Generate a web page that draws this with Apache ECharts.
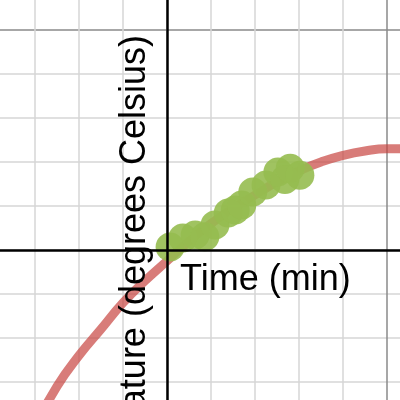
<!DOCTYPE html>
<html>
<head>
<meta charset="utf-8">
<script src="https://cdn.jsdelivr.net/npm/echarts@6/dist/echarts.min.js"></script>
<style>
html,body{margin:0;padding:0;background:#fff;overflow:hidden;width:400px;height:400px}
#main{position:absolute;left:-9px;top:-14px;width:440px;height:440px}
</style>
</head>
<body>
<div id="main"></div>
<script>
// fitted curve (red)
const curveX = [-3, -2.5, -2, -1.5, -1, -0.5, 0, 0.5, 1, 1.5, 2, 2.5, 3, 3.5, 4, 4.5, 5, 5.5];
const curveY = [-4.0, -3.1, -2.4, -1.8, -1.2, -0.7, -0.25, 0.2, 0.6, 0.95, 1.25, 1.55, 1.8, 2.0, 2.15, 2.25, 2.3, 2.3];
// measured points (green)
const pointX = [0.07, 0.36, 0.64, 0.86, 1.09, 1.39, 1.55, 1.7, 1.95, 2.25, 2.52, 2.68, 2.8, 3.02];
const pointY = [0.07, 0.27, 0.34, 0.3, 0.57, 0.84, 0.91, 1.02, 1.32, 1.48, 1.77, 1.6, 1.86, 1.7];

const minor = '#d6d6d6', major = '#8a8a8a';
// ticks -4..6, index 9 is value 5 (major line)
const gridColors = [minor, minor, minor, minor, minor, minor, minor, minor, minor, major, minor];

const chart = echarts.init(document.getElementById('main'));
chart.setOption({
  animation: false,
  grid: { left: 0, right: 0, top: 0, bottom: 0 },
  xAxis: {
    type: 'value', min: -4, max: 6, interval: 1,
    axisLine: { show: false }, axisTick: { show: false }, axisLabel: { show: false },
    splitLine: { lineStyle: { color: gridColors, width: 1.5 } }
  },
  yAxis: {
    type: 'value', min: -4, max: 6, interval: 1,
    axisLine: { show: false }, axisTick: { show: false }, axisLabel: { show: false },
    splitLine: { lineStyle: { color: gridColors, width: 1.5 } }
  },
  series: [
    {
      type: 'line', silent: true, symbol: 'none', z: 1,
      data: [],
      markLine: {
        symbol: 'none', silent: true, label: { show: false },
        lineStyle: { color: '#000', width: 2.5, type: 'solid' },
        data: [{ xAxis: 0 }, { yAxis: 0 }]
      }
    },
    {
      type: 'line', smooth: true, symbol: 'none', z: 3,
      lineStyle: { color: '#c74440', width: 9, opacity: 0.7 },
      data: curveX.map((x, i) => [x, curveY[i]])
    },
    {
      type: 'scatter', symbolSize: 29, z: 4,
      itemStyle: { color: '#96bc50', opacity: 0.9 },
      data: pointX.map((x, i) => [x, pointY[i]])
    }
  ],
  graphic: [
    {
      type: 'text', left: 189, top: 276, z: 10,
      style: { text: 'Time (min)', font: '36px "Liberation Sans", Arial, sans-serif', fill: '#000' }
    },
    {
      type: 'text', x: 144, y: 49, rotation: Math.PI / 2, z: 10,
      style: {
        text: 'Temperature (degrees Celsius)', x: 0, y: 0,
        align: 'right', verticalAlign: 'middle',
        font: '36px "Liberation Sans", Arial, sans-serif', fill: '#000'
      }
    }
  ]
});
</script>
</body>
</html>
